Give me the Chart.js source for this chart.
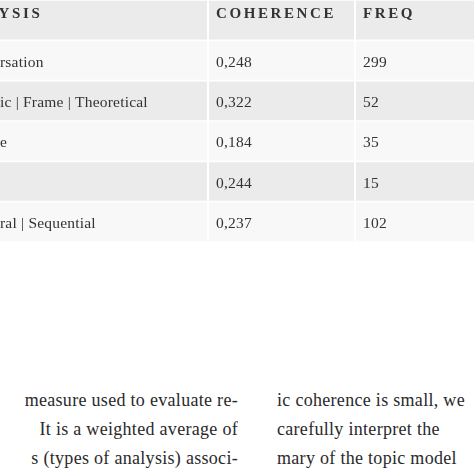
<!DOCTYPE html>
<html><head><meta charset="utf-8">
<script src="https://cdn.jsdelivr.net/npm/chart.js@4/dist/chart.umd.min.js"></script>
<style>
body{margin:0;background:#fff;width:474px;height:474px;overflow:hidden;position:relative;font-family:"Liberation Serif","DejaVu Serif",serif;color:#2a2a2a}
#wrap{position:absolute;left:0;top:0;width:474px;height:242px}
.col{position:absolute;top:386px;font-size:18px;line-height:29px;white-space:nowrap;overflow:hidden;letter-spacing:0.3px}
#left{left:-200px;width:438px;text-align:right}
#right{left:277px;width:197px}
</style></head>
<body>
<div id="wrap"><canvas id="canvas"></canvas></div>
<div class="col" id="left">measure used to evaluate re-<br>It is a weighted average of<br>s (types of analysis) associ-</div>
<div class="col" id="right">ic coherence is small, we<br>carefully interpret the<br>mary of the topic model</div>
<script>
const header = ['TYPE OF ANALYSIS','COHERENCE','FREQ'];
const types = ['Conversation','Academic | Frame | Theoretical','Narrative','Case','Structural | Sequential'];
const coherence = ['0,248','0,322','0,184','0,244','0,237'];
const freq = ['299','52','35','15','102'];
// how many leading characters of the first column fall off the left edge
const hiddenChars = [12, 5, 6, 8, 4, 7];

const rows = ['h'].concat(types.map((t,i)=>'r'+i));
const cols = [[-300,207],[209,354],[356,480]];
function rowColor(i){ return i%2===0 ? '#ebebeb' : '#f8f8f8'; }

const datasets = cols.map(c => ({
    data: rows.map(()=>c),
    backgroundColor: rows.map((r,i)=>rowColor(i)),
    borderWidth: 0,
    barPercentage: 1,
    categoryPercentage: 0.96,
    grouped: false
}));

const textPlugin = {
    id: 'cells',
    afterDatasetsDraw(chart){
        const ctx = chart.ctx, x = chart.scales.x, y = chart.scales.y;
        ctx.save();
        ctx.textBaseline = 'middle';
        ctx.fillStyle = '#333';
        ctx.font = 'bold 15px "Liberation Serif", serif';
        if (ctx.letterSpacing !== undefined) ctx.letterSpacing = '2.6px';
        const hy = y.getPixelForValue(0) - 6;
        const x0 = x.getPixelForValue(0);
        ctx.fillText(header[0], x0 - ctx.measureText(header[0].slice(0, hiddenChars[0])).width, hy);
        ctx.fillText(header[1], x.getPixelForValue(216), hy);
        ctx.fillText(header[2], x.getPixelForValue(363), hy);
        if (ctx.letterSpacing !== undefined) ctx.letterSpacing = '0.2px';
        ctx.font = '15.5px "Liberation Serif", serif';
        types.forEach((t,i)=>{
            const py = y.getPixelForValue(i+1) + 2;
            ctx.fillText(t, x0 - ctx.measureText(t.slice(0, hiddenChars[i+1])).width, py);
            ctx.fillText(coherence[i], x.getPixelForValue(216), py);
            ctx.fillText(freq[i], x.getPixelForValue(363), py);
        });
        ctx.restore();
    }
};

const chart = new Chart(document.getElementById('canvas'), {
    type: 'bar',
    data: {labels: rows, datasets: datasets},
    options: {
        indexAxis: 'y',
        responsive: true,
        maintainAspectRatio: false,
        animation: false,
        layout: {padding: 0},
        plugins: {legend: {display: false}, tooltip: {enabled: false}},
        scales: {
            x: {type: 'linear', min: 0, max: 474, display: false},
            y: {display: false}
        }
    },
    plugins: [textPlugin]
});
</script>
</body></html>
